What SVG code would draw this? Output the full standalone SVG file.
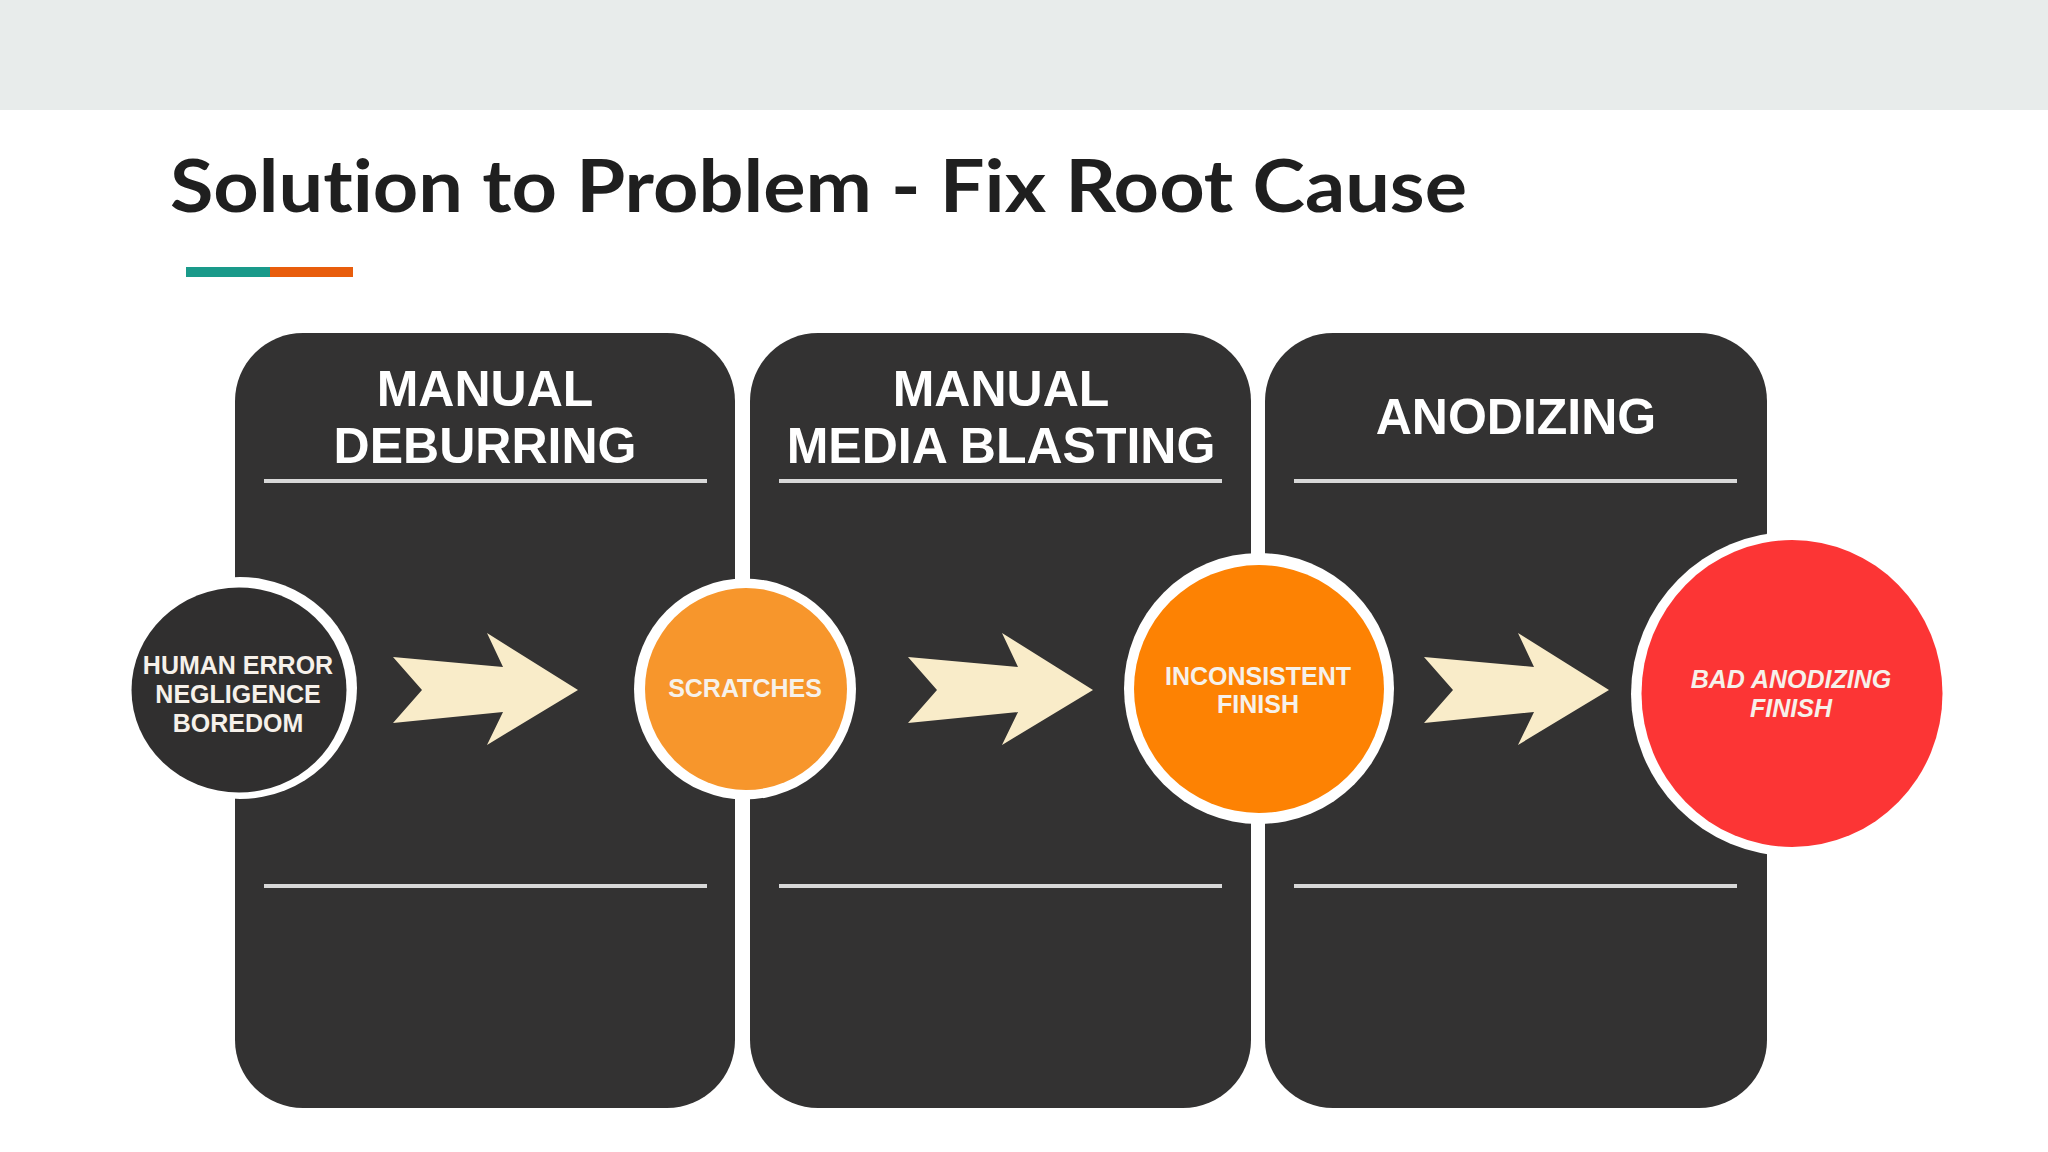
<svg xmlns="http://www.w3.org/2000/svg" xmlns:xlink="http://www.w3.org/1999/xlink" width="2048" height="1152" viewBox="0 0 2048 1152">
<style>
.panel{fill:#333232}
.rule{stroke:#d8d8d8;stroke-width:4}
.ring{fill:#ffffff}
.head{font-family:"Liberation Sans",Arial,sans-serif;font-weight:bold;font-size:50px;fill:#ffffff;text-anchor:middle}
.lbl{font-family:"Liberation Sans",Arial,sans-serif;font-weight:bold;font-size:25px;fill:#f6f1ea;text-anchor:middle}
.arrow{fill:#f9ecc9}
.title{font-family:Lato,"Open Sans",sans-serif;font-weight:bold;font-size:72px;fill:#1f1f1f;font-variant-ligatures:none;font-feature-settings:"liga" 0}
</style>
<defs>
<polygon id="chev" points="393,657 503,667 487,633 578,690 487,745 503,712 393,723 422,690"/>
</defs>
<rect x="0" y="0" width="2048" height="1152" fill="#ffffff"/>
<rect x="0" y="0" width="2048" height="110" fill="#e8eceb"/>
<g id="title">
<text class="title" x="170" y="212" textLength="1297" lengthAdjust="spacingAndGlyphs">Solution to Problem - Fix Root Cause</text>
<rect x="186" y="267" width="84" height="10" fill="#1a9a8a"/>
<rect x="270" y="267" width="83" height="10" fill="#e85d0c"/>
</g>
<g id="panel-deburring">
<rect class="panel" x="235" y="333" width="500" height="775" rx="68" ry="68"/>
<text class="head" x="485" y="406">MANUAL</text>
<text class="head" x="485" y="463">DEBURRING</text>
<line class="rule" x1="264" y1="481" x2="707" y2="481"/>
<line class="rule" x1="264" y1="886" x2="707" y2="886"/>
</g>
<g id="panel-blasting">
<rect class="panel" x="750" y="333" width="501" height="775" rx="68" ry="68"/>
<text class="head" x="1001" y="406">MANUAL</text>
<text class="head" x="1001" y="463">MEDIA BLASTING</text>
<line class="rule" x1="779" y1="481" x2="1222" y2="481"/>
<line class="rule" x1="779" y1="886" x2="1222" y2="886"/>
</g>
<g id="panel-anodizing">
<rect class="panel" x="1265" y="333" width="502" height="775" rx="68" ry="68"/>
<text class="head" x="1516" y="434">ANODIZING</text>
<line class="rule" x1="1294" y1="481" x2="1737" y2="481"/>
<line class="rule" x1="1294" y1="886" x2="1737" y2="886"/>
</g>
<g id="connectors">
<use xlink:href="#chev" class="arrow"/>
<use xlink:href="#chev" class="arrow" transform="translate(515,0)"/>
<use xlink:href="#chev" class="arrow" transform="translate(1031,0)"/>
</g>
<g id="node-human-error">
<ellipse class="ring" cx="240" cy="688" rx="117" ry="111"/>
<ellipse cx="239" cy="690" rx="107.5" ry="102.5" fill="#302f2f"/>
<text class="lbl" x="238" y="674" font-size="25.5">HUMAN ERROR</text>
<text class="lbl" x="238" y="703" font-size="25.5">NEGLIGENCE</text>
<text class="lbl" x="238" y="732" font-size="25.5">BOREDOM</text>
</g>
<g id="node-scratches">
<ellipse class="ring" cx="745" cy="689" rx="111" ry="110.5"/>
<ellipse cx="746" cy="689" rx="101" ry="101" fill="#f7962c"/>
<text class="lbl" x="745" y="697" font-size="24.5">SCRATCHES</text>
</g>
<g id="node-inconsistent">
<ellipse class="ring" cx="1259" cy="688.5" rx="135" ry="135.5"/>
<ellipse cx="1259" cy="689" rx="125" ry="124" fill="#fd8203"/>
<text class="lbl" x="1258" y="685">INCONSISTENT</text>
<text class="lbl" x="1258" y="713">FINISH</text>
</g>
<g id="node-bad-anodizing">
<ellipse class="ring" cx="1792" cy="694" rx="161" ry="162"/>
<ellipse cx="1792" cy="693.5" rx="150.5" ry="153.5" fill="#fc3535"/>
<text class="lbl" x="1791" y="688" font-style="italic" font-size="25.5">BAD ANODIZING</text>
<text class="lbl" x="1791" y="717" font-style="italic" font-size="25.5">FINISH</text>
</g>
</svg>
